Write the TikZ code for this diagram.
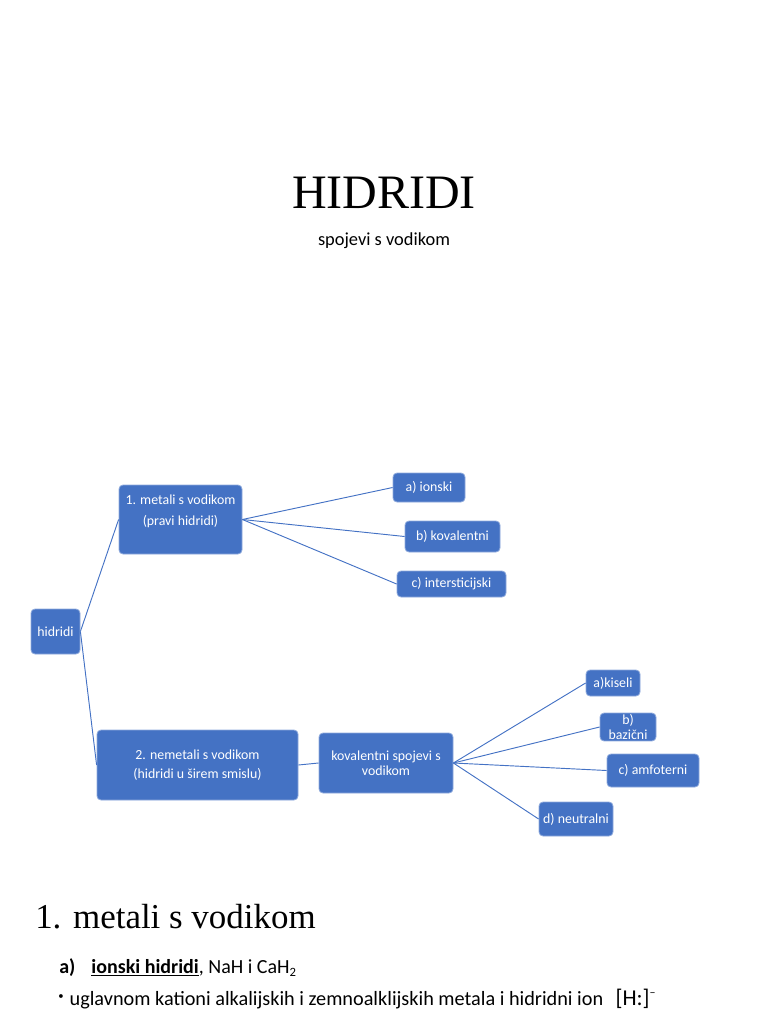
\documentclass[tikz,border=0pt]{standalone}
\usepackage{fontspec}
\setmainfont{Liberation Serif}
\newfontfamily\calib{Carlito}
\usetikzlibrary{positioning}
\definecolor{hidblue}{HTML}{4472C4}
\definecolor{hidedge}{HTML}{8FAADC}
\newdimen\pxu
\pxu=0.75pt

\begin{document}
\begin{tikzpicture}[x=0.75pt, y=-0.75pt,
  box/.style={draw=hidedge, line width=0.6pt, fill=hidblue, rounded corners=3pt, text=white,
    font=\calib\fontsize{10.4}{11.25}\selectfont, align=center, inner sep=1pt},
  link/.style={draw=hidblue, line width=0.7pt}]
  \useasboundingbox (0,0) rectangle (768,1024);
  % naslov
  \node[anchor=base, inner sep=0pt, font=\fontsize{36}{40}\selectfont] (title) at (384,208) {HIDRIDI};
  \node[anchor=base, inner sep=0pt, font=\calib\fontsize{13.8}{16}\selectfont] (subtitle) at (384,245) {spojevi s vodikom};

  % shema
  \node[box, minimum width=49\pxu, minimum height=45\pxu] (hid) at (55.5,631.5) {hidridi};
  \node[box, minimum width=123\pxu, minimum height=69\pxu,
    label={[anchor=north, inner sep=0pt, yshift=-10\pxu, text=white, align=center,
      font=\calib\fontsize{10.4}{15.5}\selectfont]north:1. metali s vodikom\\(pravi hidridi)}] (met) at (180.5,519.5) {};
  \node[box, minimum width=72\pxu, minimum height=29\pxu] (ion) at (429,487.5) {a) ionski};
  \node[box, minimum width=95\pxu, minimum height=31\pxu] (kov) at (452.5,536.5) {b) kovalentni};
  \node[box, minimum width=109\pxu, minimum height=26\pxu] (inter) at (451.5,584) {c) intersticijski};
  \node[box, minimum width=201\pxu, minimum height=70\pxu, font=\calib\fontsize{10.4}{14.25}\selectfont] (nemet) at (197.5,765) {2. nemetali s vodikom\\(hidridi u širem smislu)};
  \node[box, minimum width=134\pxu, minimum height=60\pxu] (kovsp) at (386,763) {kovalentni spojevi s\\vodikom};
  \node[box, minimum width=54\pxu, minimum height=26\pxu] (kis) at (613,683) {a)kiseli};
  \node[box, minimum width=56\pxu, minimum height=26\pxu] (baz) at (628,727) {b)\\bazični};
  \node[box, minimum width=92\pxu, minimum height=33\pxu] (amf) at (653,770.5) {c) amfoterni};
  \node[box, minimum width=74\pxu, minimum height=34\pxu] (neu) at (576,819) {d) neutralni};

  \draw[link] (hid.east) -- (met.west);
  \draw[link] (hid.east) -- (nemet.west);
  \foreach \t in {ion, kov, inter}
    \draw[link] (met.east) -- (\t.west);
  \draw[link] (nemet.east) -- (kovsp.west);
  \foreach \t in {kis, baz, amf, neu}
    \draw[link] (kovsp.east) -- (\t.west);

  % tekst ispod
  \node[anchor=base west, inner sep=0pt, font=\fontsize{26.2}{30}\selectfont] (sec) at (35,928) {1. metali s vodikom};
  \node[anchor=base west, inner sep=0pt, font=\calib\fontsize{15}{18}\selectfont] (ionh) at (59,973)
    {\textbf{a)}\hspace{0.8em}\textbf{\underline{ionski hidridi}}, NaH i CaH\raisebox{-0.4ex}{\fontsize{9.5}{10}\selectfont 2}};
  \node[anchor=base west, inner sep=0pt, font=\calib\fontsize{15.2}{18}\selectfont] (kat) at (58,1005)
    {\raisebox{0.55ex}{\fontsize{8}{8}\selectfont•}\hspace{0.3em}uglavnom kationi alkalijskih i zemnoalklijskih metala i hidridni ion\hspace{0.6em}{\fontsize{17}{18}\selectfont[H:]}\raisebox{0.9ex}{\fontsize{9}{9}\selectfont –}};
\end{tikzpicture}
\end{document}
